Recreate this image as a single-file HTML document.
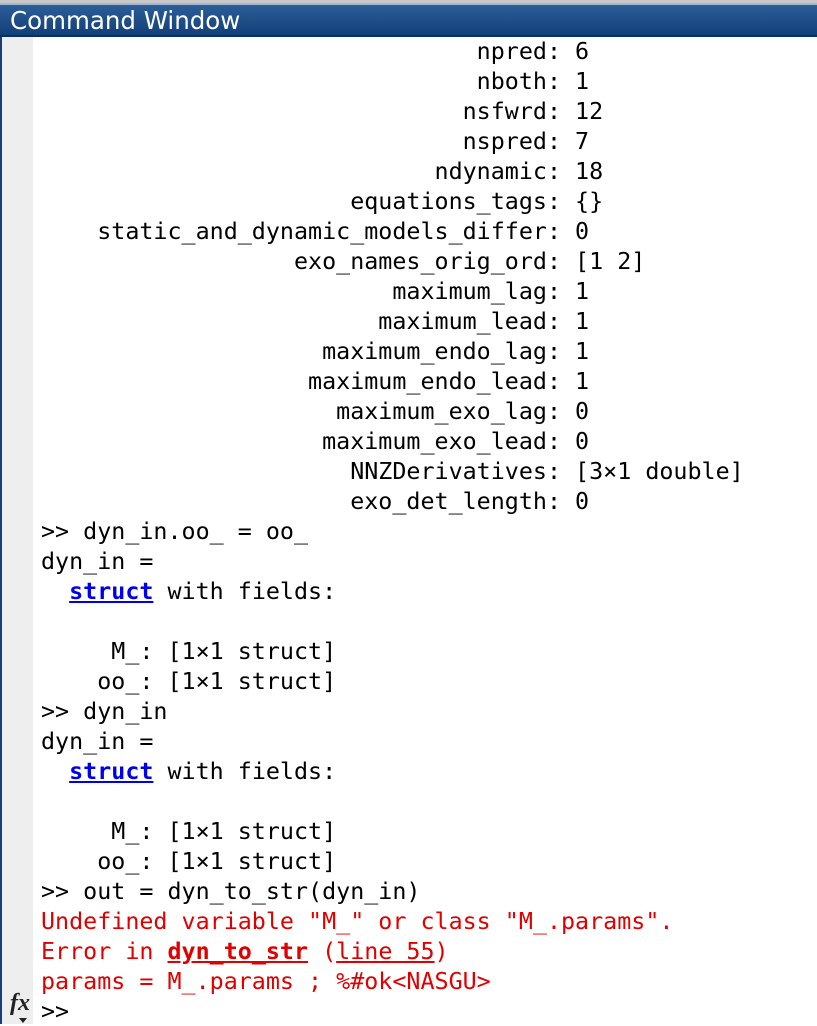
<!DOCTYPE html>
<html><head><meta charset="utf-8"><style>
html,body{margin:0;padding:0;width:817px;height:1024px;overflow:hidden;background:#fff;}
.top{position:absolute;left:0;top:0;width:817px;height:4px;background:#c8c8c8;}
.title{position:absolute;left:0;top:3px;width:817px;height:34px;background:linear-gradient(#2d5e96,#12407a);border-top:2px solid #9fb8d6;border-bottom:2px solid #0a2f66;box-sizing:border-box;}
.title span{position:absolute;left:10px;top:1px;color:#fff;font:24.5px "DejaVu Sans","Liberation Sans",sans-serif;}
.lb{position:absolute;left:0;top:37px;width:2px;height:987px;background:#1a3f78;}
.gut{position:absolute;left:2px;top:37px;width:31px;height:987px;background:#eeeeee;}
pre{position:absolute;left:41px;top:36px;margin:0;font:23.35px/30px "DejaVu Sans Mono","Liberation Mono",monospace;color:#000;}
.l{color:#0000ee;font-weight:bold;text-decoration:underline;}
.r{color:#e00000;}
.fx{position:absolute;left:10px;top:990px;font:italic bold 24px "Liberation Serif",serif;color:#222;}
.tri{position:absolute;left:19px;top:1018px;width:0;height:0;border-left:4px solid transparent;border-right:4px solid transparent;border-top:5px solid #222;}
</style></head><body>
<div class="top"></div>
<div class="title"><span>Command Window</span></div>
<div class="lb"></div>
<div class="gut"></div>
<pre>                               npred: 6
                               nboth: 1
                              nsfwrd: 12
                              nspred: 7
                            ndynamic: 18
                      equations_tags: {}
    static_and_dynamic_models_differ: 0
                  exo_names_orig_ord: [1 2]
                         maximum_lag: 1
                        maximum_lead: 1
                    maximum_endo_lag: 1
                   maximum_endo_lead: 1
                     maximum_exo_lag: 0
                    maximum_exo_lead: 0
                      NNZDerivatives: [3×1 double]
                      exo_det_length: 0
&gt;&gt; dyn_in.oo_ = oo_
dyn_in = 
  <span class="l">struct</span> with fields:

     M_: [1×1 struct]
    oo_: [1×1 struct]
&gt;&gt; dyn_in
dyn_in = 
  <span class="l">struct</span> with fields:

     M_: [1×1 struct]
    oo_: [1×1 struct]
&gt;&gt; out = dyn_to_str(dyn_in)
<span class="r">Undefined variable "M_" or class "M_.params".</span>
<span class="r">Error in <b style="text-decoration:underline">dyn_to_str</b> (<u>line 55</u>)</span>
<span class="r">params = M_.params ; %#ok&lt;NASGU&gt;</span>
&gt;&gt; </pre>
<div class="fx">fx</div>
<div class="tri"></div>
</body></html>
